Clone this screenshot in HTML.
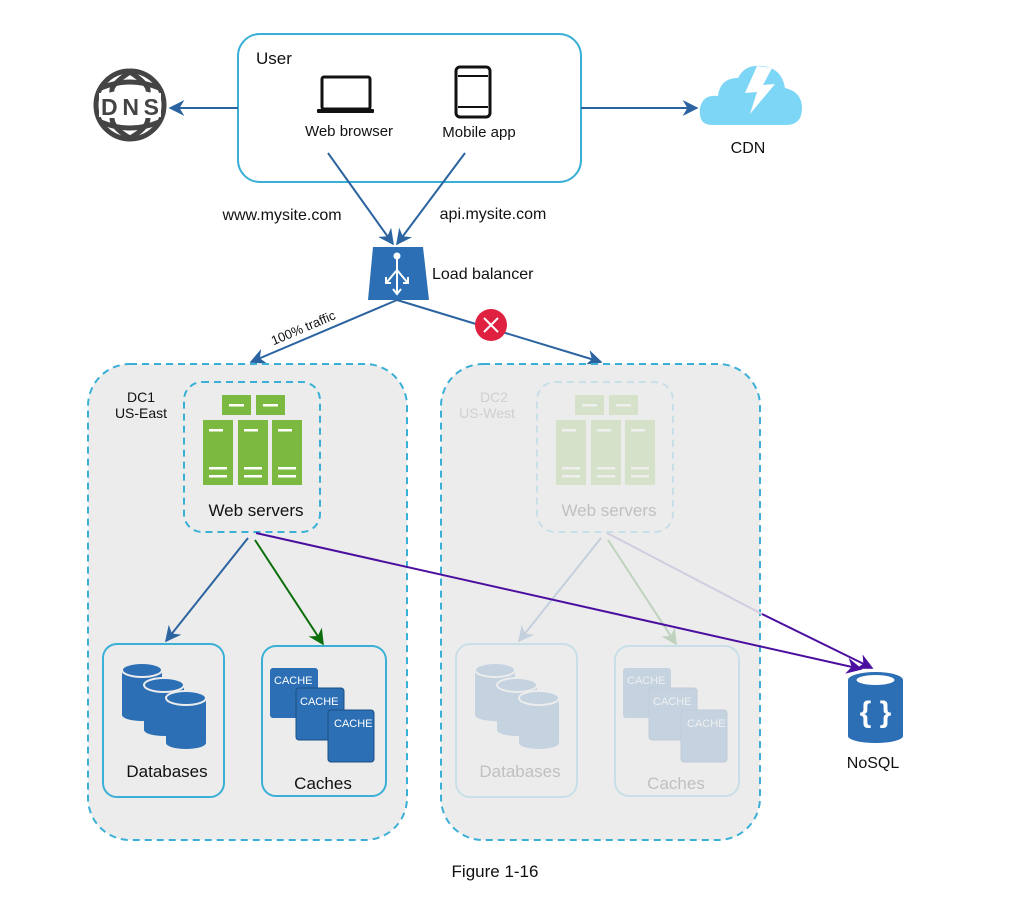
<!DOCTYPE html>
<html><head><meta charset="utf-8"><style>
html,body{margin:0;padding:0;background:#fff}
svg{display:block}
text{font-family:"Liberation Sans",Arial,sans-serif;fill:#111}
</style></head><body>
<svg width="1032" height="914" viewBox="0 0 1032 914" xmlns="http://www.w3.org/2000/svg">
<defs>
<marker id="ab" viewBox="0 0 10 10" refX="9" refY="5" markerWidth="8" markerHeight="8" orient="auto-start-reverse"><path d="M0,0 L10,5 L0,10 L3,5z" fill="#2b64a0"/></marker>
<marker id="ag" viewBox="0 0 10 10" refX="9" refY="5" markerWidth="8" markerHeight="8" orient="auto"><path d="M0,0 L10,5 L0,10 L3,5z" fill="#0b6e0b"/></marker>
<marker id="ap" viewBox="0 0 10 10" refX="9" refY="5" markerWidth="8" markerHeight="8" orient="auto"><path d="M0,0 L10,5 L0,10 L3,5z" fill="#4b0fa0"/></marker>
<g id="srv">
<rect x="222" y="395" width="29" height="20" fill="#7cb940"/><rect x="256" y="395" width="29" height="20" fill="#7cb940"/>
<rect x="229" y="404" width="15" height="2.5" fill="#fff"/><rect x="263" y="404" width="15" height="2.5" fill="#fff"/>
<rect x="203" y="420" width="30" height="65" fill="#7cb940"/><rect x="238" y="420" width="30" height="65" fill="#7cb940"/><rect x="272" y="420" width="30" height="65" fill="#7cb940"/>
<g fill="#fff"><rect x="209" y="429" width="14" height="2.5"/><rect x="244" y="429" width="14" height="2.5"/><rect x="278" y="429" width="14" height="2.5"/>
<rect x="209" y="467" width="18" height="2.5"/><rect x="244" y="467" width="18" height="2.5"/><rect x="278" y="467" width="18" height="2.5"/>
<rect x="209" y="475" width="18" height="2.5"/><rect x="244" y="475" width="18" height="2.5"/><rect x="278" y="475" width="18" height="2.5"/></g>
</g>
<g id="dbs" fill="#2c6fb5">
<g><rect x="122" y="670" width="40" height="45"/><ellipse cx="142" cy="715" rx="20" ry="6"/><ellipse cx="142" cy="670" rx="20" ry="7" stroke="#ececec" stroke-width="2"/></g>
<g><rect x="144" y="685" width="40" height="45"/><ellipse cx="164" cy="730" rx="20" ry="6"/><ellipse cx="164" cy="685" rx="20" ry="7" stroke="#ececec" stroke-width="2"/></g>
<g><rect x="166" y="698" width="40" height="45"/><ellipse cx="186" cy="743" rx="20" ry="6"/><ellipse cx="186" cy="698" rx="20" ry="7" stroke="#ececec" stroke-width="2"/></g>
</g>
<g id="cch">
<rect x="270" y="668" width="48" height="50" rx="3" fill="#2c6fb5"/>
<rect x="296" y="688" width="48" height="52" rx="3" fill="#2c6fb5" stroke="#1d4f85" stroke-width="1"/>
<rect x="328" y="710" width="46" height="52" rx="3" fill="#2c6fb5" stroke="#1d4f85" stroke-width="1"/>
<text x="274" y="684" font-size="11" style="fill:#fff">CACHE</text>
<text x="300" y="705" font-size="11" style="fill:#fff">CACHE</text>
<text x="334" y="727" font-size="11" style="fill:#fff">CACHE</text>
</g>
</defs>

<!-- User box -->
<rect x="238" y="34" width="343" height="148" rx="22" fill="#fff" stroke="#3bb0d6" stroke-width="2"/>
<text x="256" y="64" font-size="17">User</text>
<rect x="322" y="77" width="48" height="32" rx="2" fill="none" stroke="#111" stroke-width="3"/>
<rect x="317" y="109" width="57" height="4" rx="1" fill="#111"/>
<text x="349" y="136" font-size="15" text-anchor="middle">Web browser</text>
<rect x="456" y="67" width="34" height="50" rx="4" fill="none" stroke="#111" stroke-width="3"/>
<line x1="458" y1="76" x2="488" y2="76" stroke="#111" stroke-width="2"/><line x1="458" y1="107" x2="488" y2="107" stroke="#111" stroke-width="2"/>
<text x="479" y="137" font-size="15" text-anchor="middle">Mobile app</text>

<!-- DNS -->
<g stroke="#444" fill="none" stroke-width="5">
<circle cx="130" cy="105" r="34"/>
<path d="M101,88 Q130,76 159,88"/><path d="M101,122 Q130,134 159,122"/>
<path d="M130,72 Q110,85 112,92"/><path d="M130,72 Q150,85 148,92"/>
<path d="M112,118 Q112,128 130,138"/><path d="M148,118 Q148,128 130,138"/>
</g>
<rect x="99" y="93" width="62" height="24" fill="#fff"/>
<text x="130" y="115" font-size="23" font-weight="bold" text-anchor="middle" style="fill:#444" textLength="58">DNS</text>
<line x1="238" y1="108" x2="170" y2="108" stroke="#2b64a0" stroke-width="2" marker-end="url(#ab)"/>

<!-- CDN -->
<line x1="581" y1="108" x2="697" y2="108" stroke="#2b64a0" stroke-width="2" marker-end="url(#ab)"/>
<path d="M712,125 Q698,125 700,108 Q703,94 718,96 Q720,78 738,78 Q745,64 762,66 Q782,68 785,88 Q802,92 802,108 Q802,125 786,125 Z" fill="#7dd6f6"/>
<path d="M757,66 L745,93 L757,92 L750,114 L775,84 L763,85 L772,68 Z" fill="#fff"/>
<text x="748" y="153" font-size="16" text-anchor="middle">CDN</text>

<line x1="328" y1="153" x2="393" y2="244" stroke="#2b64a0" stroke-width="2" marker-end="url(#ab)"/>
<line x1="465" y1="153" x2="397" y2="244" stroke="#2b64a0" stroke-width="2" marker-end="url(#ab)"/>
<text x="282" y="220" font-size="16" text-anchor="middle">www.mysite.com</text>
<text x="493" y="219" font-size="16" text-anchor="middle">api.mysite.com</text>

<!-- LB -->
<path d="M373,247 L423,247 L429,300 L368,300 Z" fill="#2c6fb5"/>
<g stroke="#fff" stroke-width="2" fill="none">
<circle cx="397" cy="256" r="2.5" fill="#fff"/>
<line x1="397" y1="258" x2="397" y2="293"/><line x1="397" y1="270" x2="387" y2="282"/><line x1="397" y1="270" x2="407" y2="282"/>
<path d="M393,289 L397,294 L401,289"/><path d="M386,277 L386,283 L391,283"/><path d="M408,277 L408,283 L403,283"/>
</g>
<text x="432" y="279" font-size="16">Load balancer</text>

<line x1="397" y1="300" x2="251" y2="362" stroke="#2b64a0" stroke-width="2" marker-end="url(#ab)"/>
<line x1="397" y1="300" x2="601" y2="362" stroke="#2b64a0" stroke-width="2" marker-end="url(#ab)"/>
<text x="305" y="332" font-size="13" text-anchor="middle" transform="rotate(-23 305 332)">100% traffic</text>
<circle cx="491" cy="325" r="16" fill="#e0203f"/>
<path d="M484,318 L498,332 M498,318 L484,332" stroke="#fff" stroke-width="2"/>

<!-- DC1 -->
<rect x="88" y="364" width="319" height="476" rx="42" fill="#ececec" stroke="#3bb0d6" stroke-width="2" stroke-dasharray="7,5"/>
<text x="141" y="402" font-size="14" text-anchor="middle">DC1</text>
<text x="141" y="418" font-size="14" text-anchor="middle">US-East</text>
<rect x="184" y="382" width="136" height="150" rx="18" fill="none" stroke="#3bb0d6" stroke-width="2" stroke-dasharray="7,5"/>
<use href="#srv"/>
<text x="256" y="516" font-size="17" text-anchor="middle">Web servers</text>
<rect x="103" y="644" width="121" height="153" rx="14" fill="none" stroke="#3bb0d6" stroke-width="2"/>
<use href="#dbs"/>
<text x="167" y="777" font-size="17" text-anchor="middle">Databases</text>
<rect x="262" y="646" width="124" height="150" rx="14" fill="none" stroke="#3bb0d6" stroke-width="2"/>
<use href="#cch"/>
<text x="323" y="789" font-size="17" text-anchor="middle">Caches</text>
<line x1="248" y1="538" x2="166" y2="641" stroke="#2b64a0" stroke-width="2" marker-end="url(#ab)"/>
<line x1="255" y1="540" x2="323" y2="644" stroke="#0b6e0b" stroke-width="2" marker-end="url(#ag)"/>

<!-- DC2 -->
<rect x="441" y="364" width="319" height="476" rx="42" fill="#ececec" stroke="#3bb0d6" stroke-width="2" stroke-dasharray="7,5"/>
<g opacity="0.2" transform="translate(353,0)">
<rect x="184" y="382" width="136" height="150" rx="18" fill="none" stroke="#3bb0d6" stroke-width="2" stroke-dasharray="7,5"/>
<use href="#srv"/>
<text x="256" y="516" font-size="17" text-anchor="middle">Web servers</text>
<rect x="103" y="644" width="121" height="153" rx="14" fill="none" stroke="#3bb0d6" stroke-width="2"/>
<use href="#dbs"/>
<text x="167" y="777" font-size="17" text-anchor="middle">Databases</text>
<rect x="262" y="646" width="124" height="150" rx="14" fill="none" stroke="#3bb0d6" stroke-width="2"/>
<use href="#cch"/>
<text x="323" y="789" font-size="17" text-anchor="middle">Caches</text>
<line x1="248" y1="538" x2="166" y2="641" stroke="#2b64a0" stroke-width="2" marker-end="url(#ab)"/>
<line x1="255" y1="540" x2="323" y2="644" stroke="#0b6e0b" stroke-width="2" marker-end="url(#ag)"/>
</g>
<text x="494" y="402" font-size="14" text-anchor="middle" style="fill:#cfcfcf">DC2</text>
<text x="487" y="418" font-size="14" text-anchor="middle" style="fill:#cfcfcf">US-West</text>

<line x1="607" y1="533" x2="762" y2="614" stroke="#d3cce0" stroke-width="2"/>
<line x1="762" y1="614" x2="872" y2="668" stroke="#4b0fa0" stroke-width="2" marker-end="url(#ap)"/>
<line x1="256" y1="533" x2="861" y2="669" stroke="#4b0fa0" stroke-width="2" marker-end="url(#ap)"/>

<!-- NoSQL -->
<rect x="848" y="680" width="55" height="56" fill="#2c6fb5"/>
<ellipse cx="875.5" cy="736" rx="27.5" ry="7" fill="#2c6fb5"/>
<ellipse cx="875.5" cy="680" rx="27.5" ry="8" fill="#2c6fb5"/>
<ellipse cx="875.5" cy="680" rx="19" ry="5" fill="#fff"/>
<text x="875.5" y="722" font-size="30" font-weight="bold" text-anchor="middle" style="fill:#fff">{ }</text>
<text x="873" y="768" font-size="16" text-anchor="middle">NoSQL</text>

<text x="495" y="877" font-size="17" text-anchor="middle">Figure 1-16</text>
</svg>
</body></html>
